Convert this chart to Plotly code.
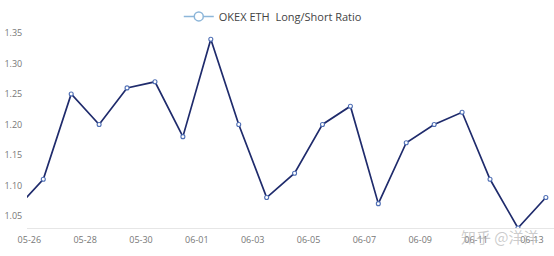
import plotly.graph_objects as go

# Data (daily points, timestamped at 12:00; first point lies just left of the visible range)
dates = ["2020-05-25 12:00", "2020-05-26 12:00", "2020-05-27 12:00", "2020-05-28 12:00",
         "2020-05-29 12:00", "2020-05-30 12:00", "2020-05-31 12:00", "2020-06-01 12:00",
         "2020-06-02 12:00", "2020-06-03 12:00", "2020-06-04 12:00", "2020-06-05 12:00",
         "2020-06-06 12:00", "2020-06-07 12:00", "2020-06-08 12:00", "2020-06-09 12:00",
         "2020-06-10 12:00", "2020-06-11 12:00", "2020-06-12 12:00", "2020-06-13 12:00"]
ratio = [1.06, 1.11, 1.25, 1.20, 1.26, 1.27, 1.18, 1.34, 1.20, 1.08,
         1.12, 1.20, 1.23, 1.07, 1.17, 1.20, 1.22, 1.11, 1.03, 1.08]
series_name = "OKEX ETH  Long/Short Ratio"
y_ticks = [1.05, 1.10, 1.15, 1.20, 1.25, 1.30, 1.35]
watermark = "知乎 @洋洋"

LINE = "#1f2b6c"
LEGEND_BLUE = "#8db6d9"
FONT = "Open Sans, Noto Sans, sans-serif"

fig = go.Figure()
fig.add_trace(go.Scatter(
    x=dates, y=ratio, mode="lines+markers", name=series_name, showlegend=False,
    line=dict(color=LINE, width=1.7),
    marker=dict(size=4, color="white", line=dict(color="#4f6fb5", width=1.1)),
    cliponaxis=True,
))
# legend entry styling (no data drawn)
fig.add_trace(go.Scatter(
    x=[None], y=[None], mode="lines+markers", name=series_name,
    line=dict(color=LEGEND_BLUE, width=1.5),
    marker=dict(size=9, color="white", line=dict(color=LEGEND_BLUE, width=1.5)),
))

fig.update_layout(
    width=554, height=256,
    margin=dict(l=27, r=0, t=27, b=28),
    paper_bgcolor="white", plot_bgcolor="white",
    font=dict(family=FONT, size=9, color="#777"),
    legend=dict(orientation="h", x=0.288, xanchor="left", y=1.125, yanchor="top",
                font=dict(size=11, color="#444", family=FONT),
                bgcolor="rgba(0,0,0,0)"),
    xaxis=dict(type="date", range=["2020-05-25 22:00", "2020-06-13 19:00"],
               tick0="2020-05-26", dtick=2 * 86400000, tickformat="%m-%d",
               showgrid=False, zeroline=False, showline=True, linecolor="#e6e6e6",
               linewidth=1, ticks="outside", ticklen=3, tickcolor="rgba(0,0,0,0)",
               tickfont=dict(size=9, color="#777")),
    yaxis=dict(range=[1.03, 1.36], tickvals=y_ticks, tickformat=".2f",
               showgrid=False, zeroline=False, showline=False,
               ticks="outside", ticklen=2, tickcolor="rgba(0,0,0,0)",
               tickfont=dict(size=9, color="#777")),
    annotations=[dict(text=watermark, xref="paper", yref="paper",
                      x=0.975, y=-0.04, xanchor="right", yanchor="middle",
                      showarrow=False,
                      font=dict(size=15, color="rgba(170,170,170,0.6)",
                                family="Noto Sans CJK SC"))],
)

fig.write_html("out.html")
